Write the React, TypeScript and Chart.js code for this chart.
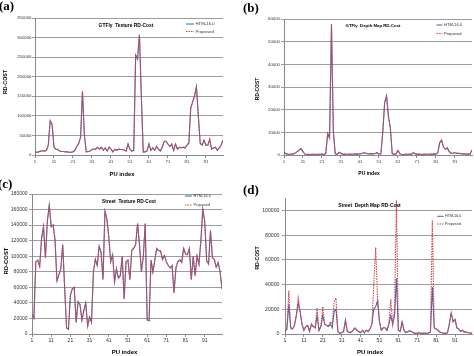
import React, { useEffect, useRef } from 'react';
import { Chart, registerables } from 'chart.js';

Chart.register(...registerables);

const PANEL_W = 237;
const PANEL_H = 178;

// ---------- data ----------
const puIndex: number[] = Array.from({ length: 100 }, (_, i) => i + 1);
const xTickValues = [1, 11, 21, 31, 41, 51, 61, 71, 81, 91];

const yTicksGTFlyTexture = [0, 50000, 100000, 150000, 200000, 250000, 300000, 350000];
const yTicksGTFlyDepth = [0, 10000, 20000, 30000, 40000, 50000, 60000];
const yTicksStreetTexture = [0, 20000, 40000, 60000, 80000, 100000, 120000, 140000, 160000, 180000];
const yTicksStreetDepth = [0, 20000, 40000, 60000, 80000, 100000];

const seriesNames = ['HTM-16.0', 'Proposed'];
const panelLetters = ['(a)', '(b)', '(c)', '(d)'];
const panelTitles = [
  'GTFly  Texture RD-Cost',
  'GTFly  Depth Map RD-Cost',
  'Street  Texture RD-Cost',
  'Street  Depth Map RD-Cost',
];
const xAxisTitle = 'PU index';
const yAxisTitle = 'RD-COST';

const gtflyTextureHTM = [
  8000, 7000, 8000, 10000, 11000, 10000, 12000, 25000, 88000, 78000,
  20000, 15000, 14000, 10000, 9000, 9000, 8000, 8000, 7000, 7000,
  8000, 12000, 22000, 30000, 45000, 163000, 50000, 8000, 9000, 10000,
  14000, 15000, 15000, 20000, 15000, 20000, 12000, 18000, 10000, 20000,
  15000, 8000, 14000, 12000, 15000, 14000, 14000, 12000, 10000, 28000,
  15000, 10000, 12000, 255000, 245000, 307000, 150000, 8000, 8000, 10000,
  28000, 12000, 18000, 12000, 22000, 15000, 10000, 20000, 35000, 35000,
  28000, 22000, 28000, 12000, 28000, 15000, 20000, 18000, 20000, 18000,
  25000, 30000, 120000, 135000, 150000, 175000, 100000, 30000, 25000, 38000,
  25000, 25000, 40000, 15000, 18000, 20000, 12000, 18000, 25000, 38000,
];
const gtflyTextureProposed = [
  8000, 7000, 8000, 10000, 11000, 10000, 12000, 25000, 88000, 78000,
  20000, 15000, 14000, 10000, 9000, 9000, 8000, 8000, 7000, 7000,
  8000, 12000, 22000, 30000, 45000, 163000, 50000, 8000, 9000, 10000,
  14000, 15000, 15000, 20000, 15000, 20000, 12000, 18000, 10000, 20000,
  15000, 8000, 14000, 12000, 15000, 14000, 14000, 12000, 10000, 28000,
  15000, 10000, 12000, 255000, 250000, 307000, 150000, 8000, 8000, 10000,
  28000, 12000, 18000, 12000, 22000, 15000, 10000, 20000, 35000, 35000,
  28000, 22000, 28000, 12000, 28000, 15000, 20000, 18000, 20000, 18000,
  25000, 30000, 120000, 135000, 150000, 175000, 100000, 30000, 25000, 38000,
  25000, 25000, 40000, 15000, 18000, 20000, 12000, 18000, 25000, 38000,
];

const gtflyDepthHTM = [
  1200, 600, 400, 300, 400, 500, 900, 1500, 2200, 2800,
  1500, 400, 200, 300, 200, 300, 300, 200, 300, 300,
  400, 200, 600, 9500, 7500, 57500, 10000, 500, 300, 1200,
  800, 300, 400, 300, 300, 400, 300, 400, 500, 400,
  500, 700, 1000, 800, 600, 500, 600, 500, 700, 1000,
  400, 500, 10000, 23000, 26000, 17000, 12000, 500, 400, 500,
  2000, 500, 300, 200, 300, 300, 400, 300, 1000, 600,
  300, 400, 300, 200, 400, 300, 300, 400, 300, 500,
  400, 1000, 5500, 6500, 3500, 2500, 3200, 1500, 800, 800,
  1000, 800, 700, 600, 500, 500, 400, 400, 400, 2200,
];
const gtflyDepthProposed = [
  1200, 600, 400, 300, 400, 500, 900, 1500, 2200, 2800,
  1500, 400, 200, 300, 200, 300, 300, 200, 300, 300,
  400, 200, 600, 9500, 7500, 58000, 10000, 500, 300, 1200,
  800, 300, 400, 300, 300, 400, 300, 400, 500, 400,
  500, 700, 1000, 800, 600, 500, 600, 500, 700, 1000,
  400, 500, 10000, 23000, 26000, 17000, 12000, 500, 400, 500,
  2000, 500, 300, 200, 300, 300, 400, 300, 1000, 600,
  300, 400, 300, 200, 400, 300, 300, 400, 300, 500,
  400, 1000, 5500, 6500, 3500, 2500, 3200, 1500, 800, 800,
  1000, 800, 700, 600, 500, 500, 400, 400, 400, 2200,
];

const streetTextureHTM = [
  25000, 20000, 93000, 95000, 87000, 123000, 138000, 98000, 145000, 166000,
  138000, 140000, 121000, 68000, 76000, 83000, 115000, 60000, 8000, 6000,
  50000, 58000, 60000, 15000, 42000, 38000, 18000, 30000, 40000, 10000,
  22000, 15000, 80000, 96000, 88000, 113000, 105000, 70000, 158000, 148000,
  125000, 93000, 102000, 67000, 84000, 72000, 75000, 100000, 45000, 93000,
  95000, 70000, 108000, 110000, 115000, 142000, 115000, 80000, 100000, 142000,
  18000, 17000, 95000, 80000, 95000, 110000, 107000, 107000, 96000, 101000,
  93000, 88000, 85000, 88000, 53000, 85000, 93000, 95000, 92000, 110000,
  103000, 102000, 110000, 70000, 100000, 75000, 100000, 90000, 120000, 160000,
  145000, 94000, 90000, 133000, 98000, 96000, 86000, 92000, 80000, 58000,
];
const streetTextureProposed = [
  25000, 20000, 93000, 95000, 87000, 123000, 138000, 98000, 145000, 166000,
  138000, 140000, 121000, 68000, 76000, 83000, 115000, 60000, 8000, 6000,
  50000, 58000, 60000, 15000, 42000, 38000, 18000, 30000, 40000, 10000,
  22000, 15000, 80000, 96000, 88000, 113000, 105000, 70000, 158000, 148000,
  125000, 93000, 102000, 67000, 84000, 72000, 75000, 100000, 45000, 93000,
  95000, 70000, 108000, 110000, 115000, 142000, 115000, 80000, 100000, 142000,
  18000, 17000, 95000, 80000, 95000, 110000, 107000, 107000, 96000, 101000,
  93000, 88000, 85000, 88000, 53000, 85000, 93000, 95000, 92000, 110000,
  103000, 102000, 110000, 70000, 100000, 75000, 100000, 90000, 120000, 160000,
  145000, 94000, 90000, 133000, 98000, 96000, 86000, 92000, 80000, 58000,
];

const streetDepthHTM = [
  2000, 4000, 24000, 5000, 4000, 7000, 15000, 25000, 18000, 8000,
  3000, 6000, 7000, 2000, 8000, 6000, 5000, 15000, 3000, 6000,
  15000, 8000, 7000, 6000, 8000, 5000, 18000, 20000, 2000, 500,
  1000, 2000, 11000, 2000, 1000, 1500, 3000, 5000, 3000, 2000,
  1000, 3000, 1000, 3000, 2000, 4000, 8000, 20000, 22000, 27000,
  10000, 3000, 5000, 5000, 3000, 8000, 15000, 8000, 15000, 45000,
  3000, 2000, 10000, 3000, 1000, 2000, 2500, 2000, 1000, 500,
  500, 1000, 500, 500, 800, 500, 800, 1500, 38000, 5000,
  4000, 3000, 1500, 1000, 500, 500, 1000, 8000, 17000, 10000,
  12000, 5000, 4000, 2000, 3000, 1500, 1500, 1000, 800, 500,
];
const streetDepthProposed = [
  2000, 4000, 35000, 5000, 4000, 7000, 15000, 29000, 18000, 8000,
  3000, 6000, 7000, 2000, 8000, 6000, 5000, 21000, 3000, 6000,
  22000, 8000, 7000, 6000, 10000, 8000, 26000, 29000, 2000, 500,
  1000, 2000, 11000, 2000, 1000, 1500, 3000, 5000, 3000, 2000,
  1000, 3000, 1000, 3000, 2000, 4000, 8000, 40000, 70000, 30000,
  10000, 3000, 5000, 5000, 3000, 8000, 28000, 8000, 20000, 108000,
  3000, 2000, 10000, 3000, 1000, 2000, 2500, 2000, 1000, 500,
  500, 1000, 500, 500, 800, 500, 800, 1500, 92000, 5000,
  4000, 3000, 1500, 1000, 500, 500, 1000, 8000, 17000, 10000,
  12000, 5000, 4000, 2000, 3000, 1500, 1500, 1000, 800, 500,
];

// ---------- styles ----------
const HTM_COLOR = '#4f62ab';
const PROP_COLOR = '#d0484a';
const GRID_COLOR = '#9d9d9d';
const AXIS_COLOR = '#8a8a8a';
const TEXT_COLOR = '#333333';
const SANS = '"Liberation Sans", Arial, sans-serif';
const SERIF = '"Liberation Serif", "Times New Roman", serif';

interface PanelCfg {
  ox: number; oy: number;
  htm: number[]; proposed: number[];
  yTicks: number[]; yMax: number;
  left: number; right: number; top: number; bottom: number;
  tickSize: number; yTickPad: number; xTickPad: number;
  letter: string; letterX: number; letterY: number; letterSize: number;
  title: string; titleX: number; titleY: number; titleSize: number;
  xTitleX: number; xTitleY: number; xTitleSize: number;
  yTitleX: number; yTitleY: number; yTitleSize: number;
  legLineX0: number; legLineX1: number; legTextX: number; legY1: number; legY2: number; legSize: number;
}

const panels: PanelCfg[] = [
  {
    ox: 0, oy: 0, htm: gtflyTextureHTM, proposed: gtflyTextureProposed,
    yTicks: yTicksGTFlyTexture, yMax: 350000,
    left: 35, right: 223, top: 18, bottom: 155,
    tickSize: 4.3, yTickPad: 0.5, xTickPad: 1.1,
    letter: panelLetters[0], letterX: -1, letterY: 7, letterSize: 13,
    title: panelTitles[0], titleX: 126, titleY: 26, titleSize: 4.9,
    xTitleX: 122, xTitleY: 174, xTitleSize: 5.8,
    yTitleX: 6, yTitleY: 82, yTitleSize: 5.3,
    legLineX0: 186, legLineX1: 194, legTextX: 195.5, legY1: 24, legY2: 31.5, legSize: 4.3,
  },
  {
    ox: 237, oy: 0, htm: gtflyDepthHTM, proposed: gtflyDepthProposed,
    yTicks: yTicksGTFlyDepth, yMax: 60000,
    left: 47, right: 235, top: 19, bottom: 155,
    tickSize: 4.3, yTickPad: 1, xTickPad: 1.1,
    letter: panelLetters[1], letterX: 6, letterY: 8.5, letterSize: 13,
    title: panelTitles[1], titleX: 136, titleY: 26, titleSize: 4.3,
    xTitleX: 132, xTitleY: 174, xTitleSize: 5,
    yTitleX: 21, yTitleY: 89, yTitleSize: 4.9,
    legLineX0: 199.5, legLineX1: 205.5, legTextX: 207, legY1: 25, legY2: 33.5, legSize: 4.1,
  },
  {
    ox: 0, oy: 178, htm: streetTextureHTM, proposed: streetTextureProposed,
    yTicks: yTicksStreetTexture, yMax: 180000,
    left: 32, right: 222, top: 16, bottom: 156,
    tickSize: 5, yTickPad: 1.5, xTickPad: 0.7,
    letter: panelLetters[2], letterX: -2, letterY: 6.5, letterSize: 13,
    title: panelTitles[2], titleX: 129, titleY: 24, titleSize: 4.8,
    xTitleX: 124.5, xTitleY: 174, xTitleSize: 6,
    yTitleX: 6, yTitleY: 83, yTitleSize: 5.9,
    legLineX0: 185, legLineX1: 192, legTextX: 193.5, legY1: 18, legY2: 27, legSize: 3.9,
  },
  {
    ox: 237, oy: 178, htm: streetDepthHTM, proposed: streetDepthProposed,
    yTicks: yTicksStreetDepth, yMax: 110000,
    left: 48, right: 235, top: 20, bottom: 156,
    tickSize: 5.2, yTickPad: 2.5, xTickPad: 0.6,
    letter: panelLetters[3], letterX: 6, letterY: 12.3, letterSize: 13,
    title: panelTitles[3], titleX: 132.5, titleY: 28, titleSize: 4.9,
    xTitleX: 133, xTitleY: 174, xTitleSize: 6.1,
    yTitleX: 21, yTitleY: 80, yTitleSize: 5.1,
    legLineX0: 200, legLineX1: 206.7, legTextX: 208, legY1: 38.3, legY2: 46, legSize: 3.7,
  },
];

function makeTextPlugin(p: PanelCfg) {
  return {
    id: 'panelText',
    afterDraw(chart: Chart) {
      const ctx = chart.ctx;
      ctx.save();
      ctx.fillStyle = '#000';
      ctx.textBaseline = 'middle';

      ctx.textAlign = 'left';
      ctx.font = `bold ${p.letterSize}px ${SERIF}`;
      ctx.fillText(p.letter, p.letterX, p.letterY);

      ctx.textAlign = 'center';
      ctx.font = `bold ${p.titleSize}px ${SANS}`;
      ctx.fillText(p.title, p.titleX, p.titleY);

      ctx.font = `bold ${p.xTitleSize}px ${SANS}`;
      ctx.fillText(xAxisTitle, p.xTitleX, p.xTitleY);

      ctx.save();
      ctx.translate(p.yTitleX, p.yTitleY);
      ctx.rotate(-Math.PI / 2);
      ctx.font = `bold ${p.yTitleSize}px ${SANS}`;
      ctx.fillText(yAxisTitle, 0, 0);
      ctx.restore();

      // legend
      ctx.lineWidth = 1;
      ctx.strokeStyle = HTM_COLOR;
      ctx.setLineDash([]);
      ctx.beginPath();
      ctx.moveTo(p.legLineX0, p.legY1);
      ctx.lineTo(p.legLineX1, p.legY1);
      ctx.stroke();
      ctx.strokeStyle = PROP_COLOR;
      ctx.setLineDash([1.5, 1]);
      ctx.beginPath();
      ctx.moveTo(p.legLineX0, p.legY2);
      ctx.lineTo(p.legLineX1, p.legY2);
      ctx.stroke();
      ctx.setLineDash([]);

      ctx.textAlign = 'left';
      ctx.fillStyle = TEXT_COLOR;
      ctx.font = `${p.legSize}px ${SANS}`;
      ctx.fillText(seriesNames[0], p.legTextX, p.legY1);
      ctx.fillText(seriesNames[1], p.legTextX, p.legY2);
      ctx.restore();
    },
  };
}

function Panel({ cfg }: { cfg: PanelCfg }) {
  const ref = useRef<HTMLCanvasElement>(null);
  useEffect(() => {
    const canvas = ref.current;
    if (!canvas) return;
    const chart = new Chart(canvas, {
      type: 'line',
      data: {
        datasets: [
          {
            label: seriesNames[0],
            data: cfg.htm.map((v, i) => ({ x: puIndex[i], y: v })),
            borderColor: HTM_COLOR,
            borderWidth: 1.1,
            pointRadius: 0,
            tension: 0,
            order: 2,
          },
          {
            label: seriesNames[1],
            data: cfg.proposed.map((v, i) => ({ x: puIndex[i], y: v })),
            borderColor: PROP_COLOR,
            borderWidth: 1.1,
            borderDash: [1.5, 1],
            pointRadius: 0,
            tension: 0,
            order: 1,
          },
        ],
      },
      options: {
        responsive: false,
        maintainAspectRatio: false,
        animation: false,
        events: [],
        layout: { padding: { left: 0, right: PANEL_W - cfg.right, top: cfg.top, bottom: 0 } },
        plugins: {
          legend: { display: false },
          tooltip: { enabled: false },
          title: { display: false },
        },
        scales: {
          x: {
            type: 'linear',
            min: 1,
            max: 100,
            afterBuildTicks: (ax: any) => {
              ax.ticks = xTickValues.map((v) => ({ value: v }));
            },
            afterFit: (ax: any) => {
              ax.height = PANEL_H - cfg.bottom;
            },
            grid: { drawOnChartArea: false, drawTicks: true, tickLength: 3, color: AXIS_COLOR, lineWidth: 1 },
            border: { display: true, color: AXIS_COLOR, width: 1 },
            ticks: {
              autoSkip: false,
              maxRotation: 0,
              padding: cfg.xTickPad,
              color: TEXT_COLOR,
              font: { family: SANS, size: cfg.tickSize },
              callback: (v: any) => String(v),
            },
          },
          y: {
            type: 'linear',
            min: 0,
            max: cfg.yMax,
            afterBuildTicks: (ax: any) => {
              ax.ticks = cfg.yTicks.map((v) => ({ value: v }));
            },
            afterFit: (ax: any) => {
              ax.width = cfg.left;
            },
            grid: { color: GRID_COLOR, lineWidth: 1, drawTicks: true, tickLength: 3 },
            border: { display: true, color: AXIS_COLOR, width: 1 },
            ticks: {
              autoSkip: false,
              padding: cfg.yTickPad,
              color: TEXT_COLOR,
              font: { family: SANS, size: cfg.tickSize },
              callback: (v: any) => String(v),
            },
          },
        },
      },
      plugins: [makeTextPlugin(cfg)],
    } as any);
    return () => chart.destroy();
  }, [cfg]);
  return (
    <canvas
      ref={ref}
      width={PANEL_W}
      height={PANEL_H}
      style={{ position: 'absolute', left: cfg.ox, top: cfg.oy, width: PANEL_W, height: PANEL_H, display: 'block' }}
    />
  );
}

export default function App() {
  return (
    <div style={{ position: 'fixed', left: 0, top: 0, width: 474, height: 356, background: '#ffffff', overflow: 'hidden' }}>
      {panels.map((p, i) => (
        <Panel key={i} cfg={p} />
      ))}
    </div>
  );
}
